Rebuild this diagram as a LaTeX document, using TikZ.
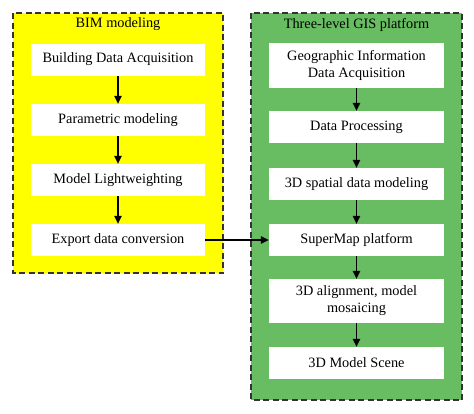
\documentclass[tikz,border=0pt]{standalone}
\usepackage{fontspec}
\setmainfont{Liberation Serif}
\usetikzlibrary{arrows.meta}

\definecolor{bimyellow}{RGB}{255,255,0}
\definecolor{gisgreen}{RGB}{104,188,98}

\tikzset{
  group/.style={draw=black!80, dash pattern=on 6pt off 3.5pt, line width=1.1pt},
  stepbox/.style={fill=white, draw=none, minimum width=174, minimum height=32,
    inner sep=0pt, align=center, font=\fontsize{14.3}{17}\selectfont},
  title/.style={font=\fontsize{14.3}{17}\selectfont},
  flow/.style={black, line width=1.1pt, -{Triangle[length=8pt, width=7.5pt]}}
}

\begin{document}
\begin{tikzpicture}[x=1pt,y=-1pt]
\useasboundingbox (0,0) rectangle (474,413);
\fill[white] (0,0) rectangle (474,413);
% left group
\filldraw[group, fill=bimyellow] (13,13) rectangle (223,273);
\node[title] (bimtitle) at (118,24.5) {BIM modeling};
\node[stepbox] (acq) at (118,59.5) {Building Data Acquisition};
\node[stepbox] (param) at (118,120) {Parametric modeling};
\node[stepbox] (light) at (118,180) {Model Lightweighting};
\node[stepbox] (export) at (118,240) {Export data conversion};
% right group
\filldraw[group, fill=gisgreen] (251,13) rectangle (462,400);
\node[title] (gistitle) at (356.5,24.5) {Three-level GIS platform};
\node[stepbox, minimum width=175, minimum height=45] (geo) at (356.5,65.5) {Geographic Information\\Data Acquisition};
\node[stepbox, minimum width=175] (proc) at (356.5,127) {Data Processing};
\node[stepbox, minimum width=175] (spatial) at (356.5,184) {3D spatial data modeling};
\node[stepbox, minimum width=175] (smap) at (356.5,240) {SuperMap platform};
\node[stepbox, minimum width=175, minimum height=44] (align) at (356.5,301) {3D alignment, model\\mosaicing};
\node[stepbox, minimum width=175] (scene) at (356.5,363) {3D Model Scene};
% connectors
\draw[flow] (acq) -- (param);
\draw[flow] (param) -- (light);
\draw[flow] (light) -- (export);
\draw[flow] (geo) -- (proc);
\draw[flow] (proc) -- (spatial);
\draw[flow] (spatial) -- (smap);
\draw[flow] (smap) -- (align);
\draw[flow] (align) -- (scene);
\draw[flow] (export) -- (smap);
\end{tikzpicture}
\end{document}
